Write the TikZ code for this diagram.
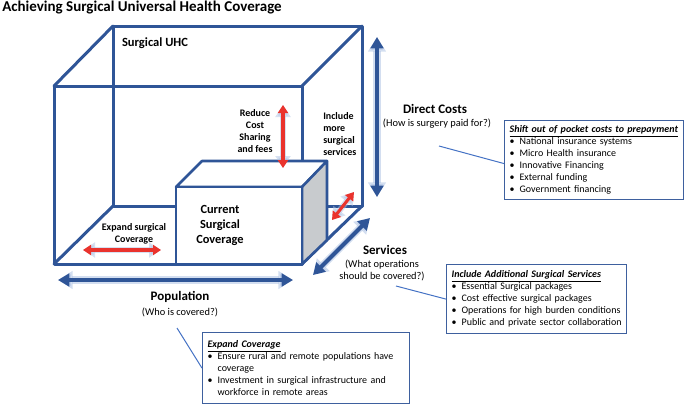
\documentclass[tikz,border=0pt]{standalone}
\usepackage{fontspec}
\setmainfont{Carlito}
\usetikzlibrary{arrows.meta}
\newdimen\pxu \pxu=0.75pt
\definecolor{boxblue}{RGB}{47,85,151}
\definecolor{glowblue}{RGB}{175,195,228}
\definecolor{arrred}{RGB}{234,51,45}
\definecolor{frameblue}{RGB}{62,96,158}
\definecolor{linkblue}{RGB}{68,114,196}
\definecolor{sidegray}{RGB}{200,203,206}
\newcommand\bitem[1]{\makebox[10\pxu][l]{\textbullet}#1}
\newcommand\nohyph{\hyphenpenalty=10000\relax}
\tikzset{
  edge3d/.style={draw=boxblue, line width=2.25pt, line join=round, line cap=round},
  smalledge/.style={draw=boxblue, line width=1.9pt, line join=round},
  bluearrow/.style={draw=boxblue, line width=3pt,
     {Triangle[width=9.5pt,length=8.5pt]}-{Triangle[width=9.5pt,length=8.5pt]},
     preaction={draw=glowblue, line width=5.5pt, opacity=0.55,
       {Triangle[width=13pt,length=11pt]}-{Triangle[width=13pt,length=11pt]}}},
  redarrow/.style={draw=arrred, line width=2.3pt,
     {Triangle[width=7.5pt,length=6pt]}-{Triangle[width=7.5pt,length=6pt]},
     preaction={draw=glowblue, line width=4.5pt, opacity=0.5,
       {Triangle[width=11pt,length=9pt]}-{Triangle[width=11pt,length=9pt]}}},
  lbl/.style={inner sep=0pt, font=\fontsize{7.5pt}{9pt}\selectfont\bfseries, align=center},
  head/.style={inner sep=0pt, font=\fontsize{9.75pt}{11pt}\selectfont\bfseries},
  sub/.style={inner sep=0pt, font=\fontsize{7.8pt}{9pt}\selectfont, align=center},
  infobox/.style={draw=frameblue, line width=0.9pt, fill=white, anchor=north west,
     inner xsep=5\pxu, inner ysep=0pt, align=left,
     font=\fontsize{7.5pt}{9pt}\selectfont\nohyph},
  link/.style={draw=linkblue, line width=0.75pt}
}
\begin{document}
\begin{tikzpicture}[x=0.75pt,y=-0.75pt]
\useasboundingbox (0,0) rectangle (685,404);

% title
\node[inner sep=0pt, anchor=west, font=\fontsize{11.25pt}{13pt}\selectfont\bfseries] (title) at (2,8) {Achieving Surgical Universal Health Coverage};

% big box: back face and depth edges
\draw[edge3d] (113,26) rectangle (362,206);
\draw[edge3d] (54,86) -- (113,26);
\draw[edge3d] (302,86) -- (362,26);
\draw[edge3d] (54,264) -- (113,206);
\draw[edge3d] (302,264) -- (362,206);
% front face
\draw[edge3d] (54,86) rectangle (302,264);

% current coverage small box
\draw[smalledge, fill=white] (176,187) -- (202,161) -- (327,161) -- (302,187) -- cycle;
\draw[smalledge, fill=sidegray] (302,187) -- (327,161) -- (327,240) -- (302,264) -- cycle;
\draw[smalledge, fill=white] (176,187) rectangle (302,264);

% labels inside the box
\node[inner sep=0pt, font=\fontsize{9.4pt}{11pt}\selectfont\bfseries] (uhc) at (155,43) {Surgical UHC};
\node[lbl] (reduce) at (255,131) {Reduce\\Cost\\Sharing\\and fees};
\node[lbl, anchor=west, align=left] (include) at (323,134) {Include\\more\\surgical\\services};
\node[inner sep=0pt, align=center, font=\fontsize{9.3pt}{11.25pt}\selectfont\bfseries] (current) at (220,225) {Current\\Surgical\\Coverage};
\node[lbl] (expand) at (134,234) {Expand surgical\\Coverage};

% arrows
\coordinate (va1) at (377,37); \coordinate (va2) at (377,197);
\coordinate (pa1) at (58,280); \coordinate (pa2) at (293,280);
\coordinate (sa1) at (313,275); \coordinate (sa2) at (370,218);
\draw[bluearrow] (va1) -- (va2);
\draw[bluearrow] (pa1) -- (pa2);
\draw[bluearrow] (sa1) -- (sa2);
\coordinate (ra1) at (283,105); \coordinate (ra2) at (283,168);
\coordinate (rb1) at (83,250); \coordinate (rb2) at (161,250);
\coordinate (rc1) at (332,220); \coordinate (rc2) at (354,192);
\draw[redarrow] (ra1) -- (ra2);
\draw[redarrow] (rb1) -- (rb2);
\draw[redarrow] (rc1) -- (rc2);

% dimension labels
\node[head] (dc) at (435,109) {Direct Costs};
\node[sub] (dcq) at (437,124) {(How is surgery paid for?)};
\node[head] (sv) at (385,250) {Services};
\node[sub] (svq) at (382,270) {(What operations\\should be covered?)};
\node[head] (pop) at (180,297) {Population};
\node[sub] (popq) at (180,312) {(Who is covered?)};

% info boxes
\node[infobox, minimum width=179\pxu, minimum height=79\pxu, text width=169\pxu] (box1) at (504,120)
 {\textbf{\textit{\underline{Shift out of pocket costs to prepayment}}}\\
  \bitem{National insurance systems}\\
  \bitem{Micro Health insurance}\\
  \bitem{Innovative Financing}\\
  \bitem{External funding}\\
  \bitem{Government financing}};
\node[infobox, minimum width=180\pxu, minimum height=69\pxu, text width=170\pxu] (box2) at (446,264)
 {\textbf{\textit{\underline{Include Additional Surgical Services}}}\\
  \bitem{Essential Surgical packages}\\
  \bitem{Cost effective surgical packages}\\
  \bitem{Operations for high burden conditions}\\
  \bitem{Public and private sector collaboration}};
\node[infobox, minimum width=207\pxu, minimum height=71\pxu, text width=197\pxu] (box3) at (202,332)
 {\textbf{\textit{\underline{Expand Coverage}}}\\
  \bitem{Ensure rural and remote populations have}\\
  \hspace*{10\pxu}coverage\\
  \bitem{Investment in surgical infrastructure and}\\
  \hspace*{10\pxu}workforce in remote areas};

% connectors
\coordinate (dcl) at (439,146);
\coordinate (svl) at (396,286);
\coordinate (popl) at (177,328);
\draw[link] (dcl) -- ([yshift=-2.6pt]box1.west);
\draw[link] (svl) -- (box2.west);
\draw[link] (popl) -- (box3.west);
\end{tikzpicture}
\end{document}
